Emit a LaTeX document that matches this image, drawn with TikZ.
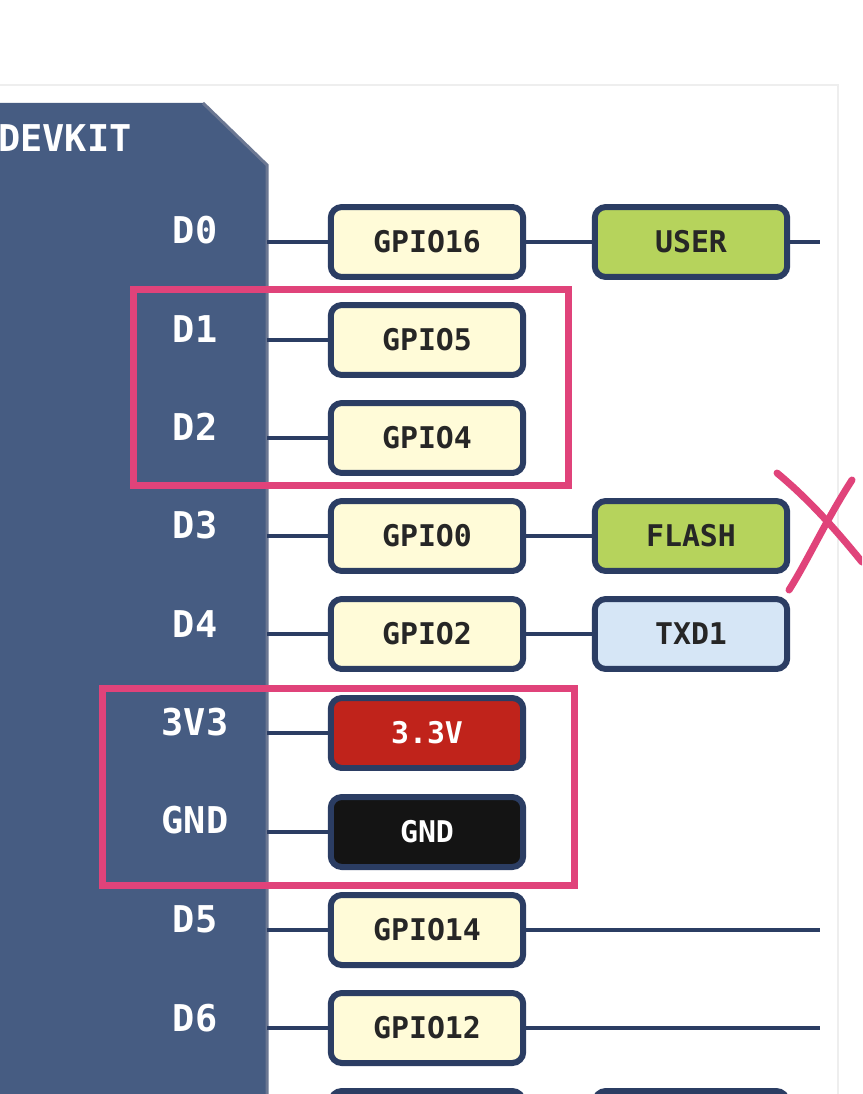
\documentclass[tikz,border=0pt]{standalone}
\usepackage{fontspec}
\setmonofont{DejaVu Sans Mono}
\usetikzlibrary{positioning, calc}

\definecolor{boardblue}{HTML}{465C82}
\definecolor{edgeblue}{HTML}{2B3D63}
\definecolor{gpiofill}{HTML}{FFFBD8}
\definecolor{userfill}{HTML}{B6D35C}
\definecolor{txdfill}{HTML}{D6E6F6}
\definecolor{pwrred}{HTML}{C0231B}
\definecolor{markpink}{HTML}{E0437A}
\definecolor{framegray}{HTML}{EEEEEE}

\begin{document}
\begin{tikzpicture}[x=0.02cm, y=-0.02cm]
  \tikzstyle{pin} = [rectangle, rounded corners=0.22cm, draw=edgeblue, line width=0.12cm,
                     minimum width=3.85cm, minimum height=1.4cm, inner sep=0pt,
                     font=\ttfamily\bfseries\fontsize{17}{17}\selectfont, text=black!85]
  \tikzstyle{gpio} = [pin, fill=gpiofill]
  \tikzstyle{func} = [pin, fill=userfill]
  \tikzstyle{pinlabel} = [text=white, font=\ttfamily\bfseries\fontsize{21}{21}\selectfont]
  \tikzstyle{wire} = [draw=edgeblue, line width=0.075cm]
  \tikzstyle{pinkmark} = [draw=markpink, line width=0.14cm]
  \clip (0,0) rectangle (862,1094);
  \fill[white] (0,0) rectangle (862,1094);
  % frame of the screenshot
  \draw[framegray, line width=0.04cm] (0,85) -- (838,85) -- (838,1094);
  % the board
  \fill[boardblue] (-10,103) -- (203,103) -- (267,165) -- (267,1110) -- (-10,1110) -- cycle;
  \draw[edgeblue!70, line width=0.06cm] (203,103) -- (267,165) -- (267,1110);
  \node[pinlabel, anchor=west] (title) at (-8,138) {DEVKIT};
  % pin labels on the board
  \node[pinlabel] (D0) at (195,230) {D0};
  \node[pinlabel] (D1) at (195,329) {D1};
  \node[pinlabel] (D2) at (195,427) {D2};
  \node[pinlabel] (D3) at (195,525) {D3};
  \node[pinlabel] (D4) at (195,624) {D4};
  \node[pinlabel] (V33) at (195,722) {3V3};
  \node[pinlabel] (G) at (195,820) {GND};
  \node[pinlabel] (D5) at (195,919) {D5};
  \node[pinlabel] (D6) at (195,1018) {D6};
  % board edge
  \coordinate (e0) at (267,242);
  \coordinate (e1) at (267,340);
  \coordinate (e2) at (267,438);
  \coordinate (e3) at (267,536);
  \coordinate (e4) at (267,634);
  \coordinate (e5) at (267,733);
  \coordinate (e6) at (267,832);
  \coordinate (e7) at (267,930);
  \coordinate (e8) at (267,1028);
  % gpio column
  \node[gpio] (gpio16) at (427,242) {GPIO16};
  \node[gpio] (gpio5) at (427,340) {GPIO5};
  \node[gpio] (gpio4) at (427,438) {GPIO4};
  \node[gpio] (gpio0) at (427,536) {GPIO0};
  \node[gpio] (gpio2) at (427,634) {GPIO2};
  \node[pin, fill=pwrred, text=white] (v33) at (427,733) {3.3V};
  \node[pin, fill=black!92, text=white] (gnd) at (427,832) {GND};
  \node[gpio] (gpio14) at (427,930) {GPIO14};
  \node[gpio] (gpio12) at (427,1028) {GPIO12};
  \node[pin, fill=edgeblue] (more1) at (427,1126) {};
  % function column
  \node[func] (user) at (691,242) {USER};
  \node[func] (flash) at (691,536) {FLASH};
  \node[pin, fill=txdfill] (txd) at (691,634) {TXD1};
  \node[pin, fill=edgeblue] (more2) at (691,1126) {};
  % loose ends
  \coordinate (o0) at (820,242);
  \coordinate (o7) at (820,930);
  \coordinate (o8) at (820,1028);
  % wires
  \draw[wire] (e0) -- (gpio16);
  \draw[wire] (e1) -- (gpio5);
  \draw[wire] (e2) -- (gpio4);
  \draw[wire] (e3) -- (gpio0);
  \draw[wire] (e4) -- (gpio2);
  \draw[wire] (e5) -- (v33);
  \draw[wire] (e6) -- (gnd);
  \draw[wire] (e7) -- (gpio14);
  \draw[wire] (e8) -- (gpio12);
  \draw[wire] (gpio16) -- (user);
  \draw[wire] (user) -- (o0);
  \draw[wire] (gpio0) -- (flash);
  \draw[wire] (gpio2) -- (txd);
  \draw[wire] (gpio14) -- (o7);
  \draw[wire] (gpio12) -- (o8);
  % pink marks
  \draw[pinkmark] (133,290) rectangle (568,485);
  \draw[pinkmark] (102,688) rectangle (574,885);
  \draw[pinkmark, line cap=round] (777,473) .. controls (812,502) and (840,535) .. (862,562);
  \draw[pinkmark, line cap=round] (852,480) .. controls (826,520) and (808,560) .. (789,590);
\end{tikzpicture}
\end{document}
